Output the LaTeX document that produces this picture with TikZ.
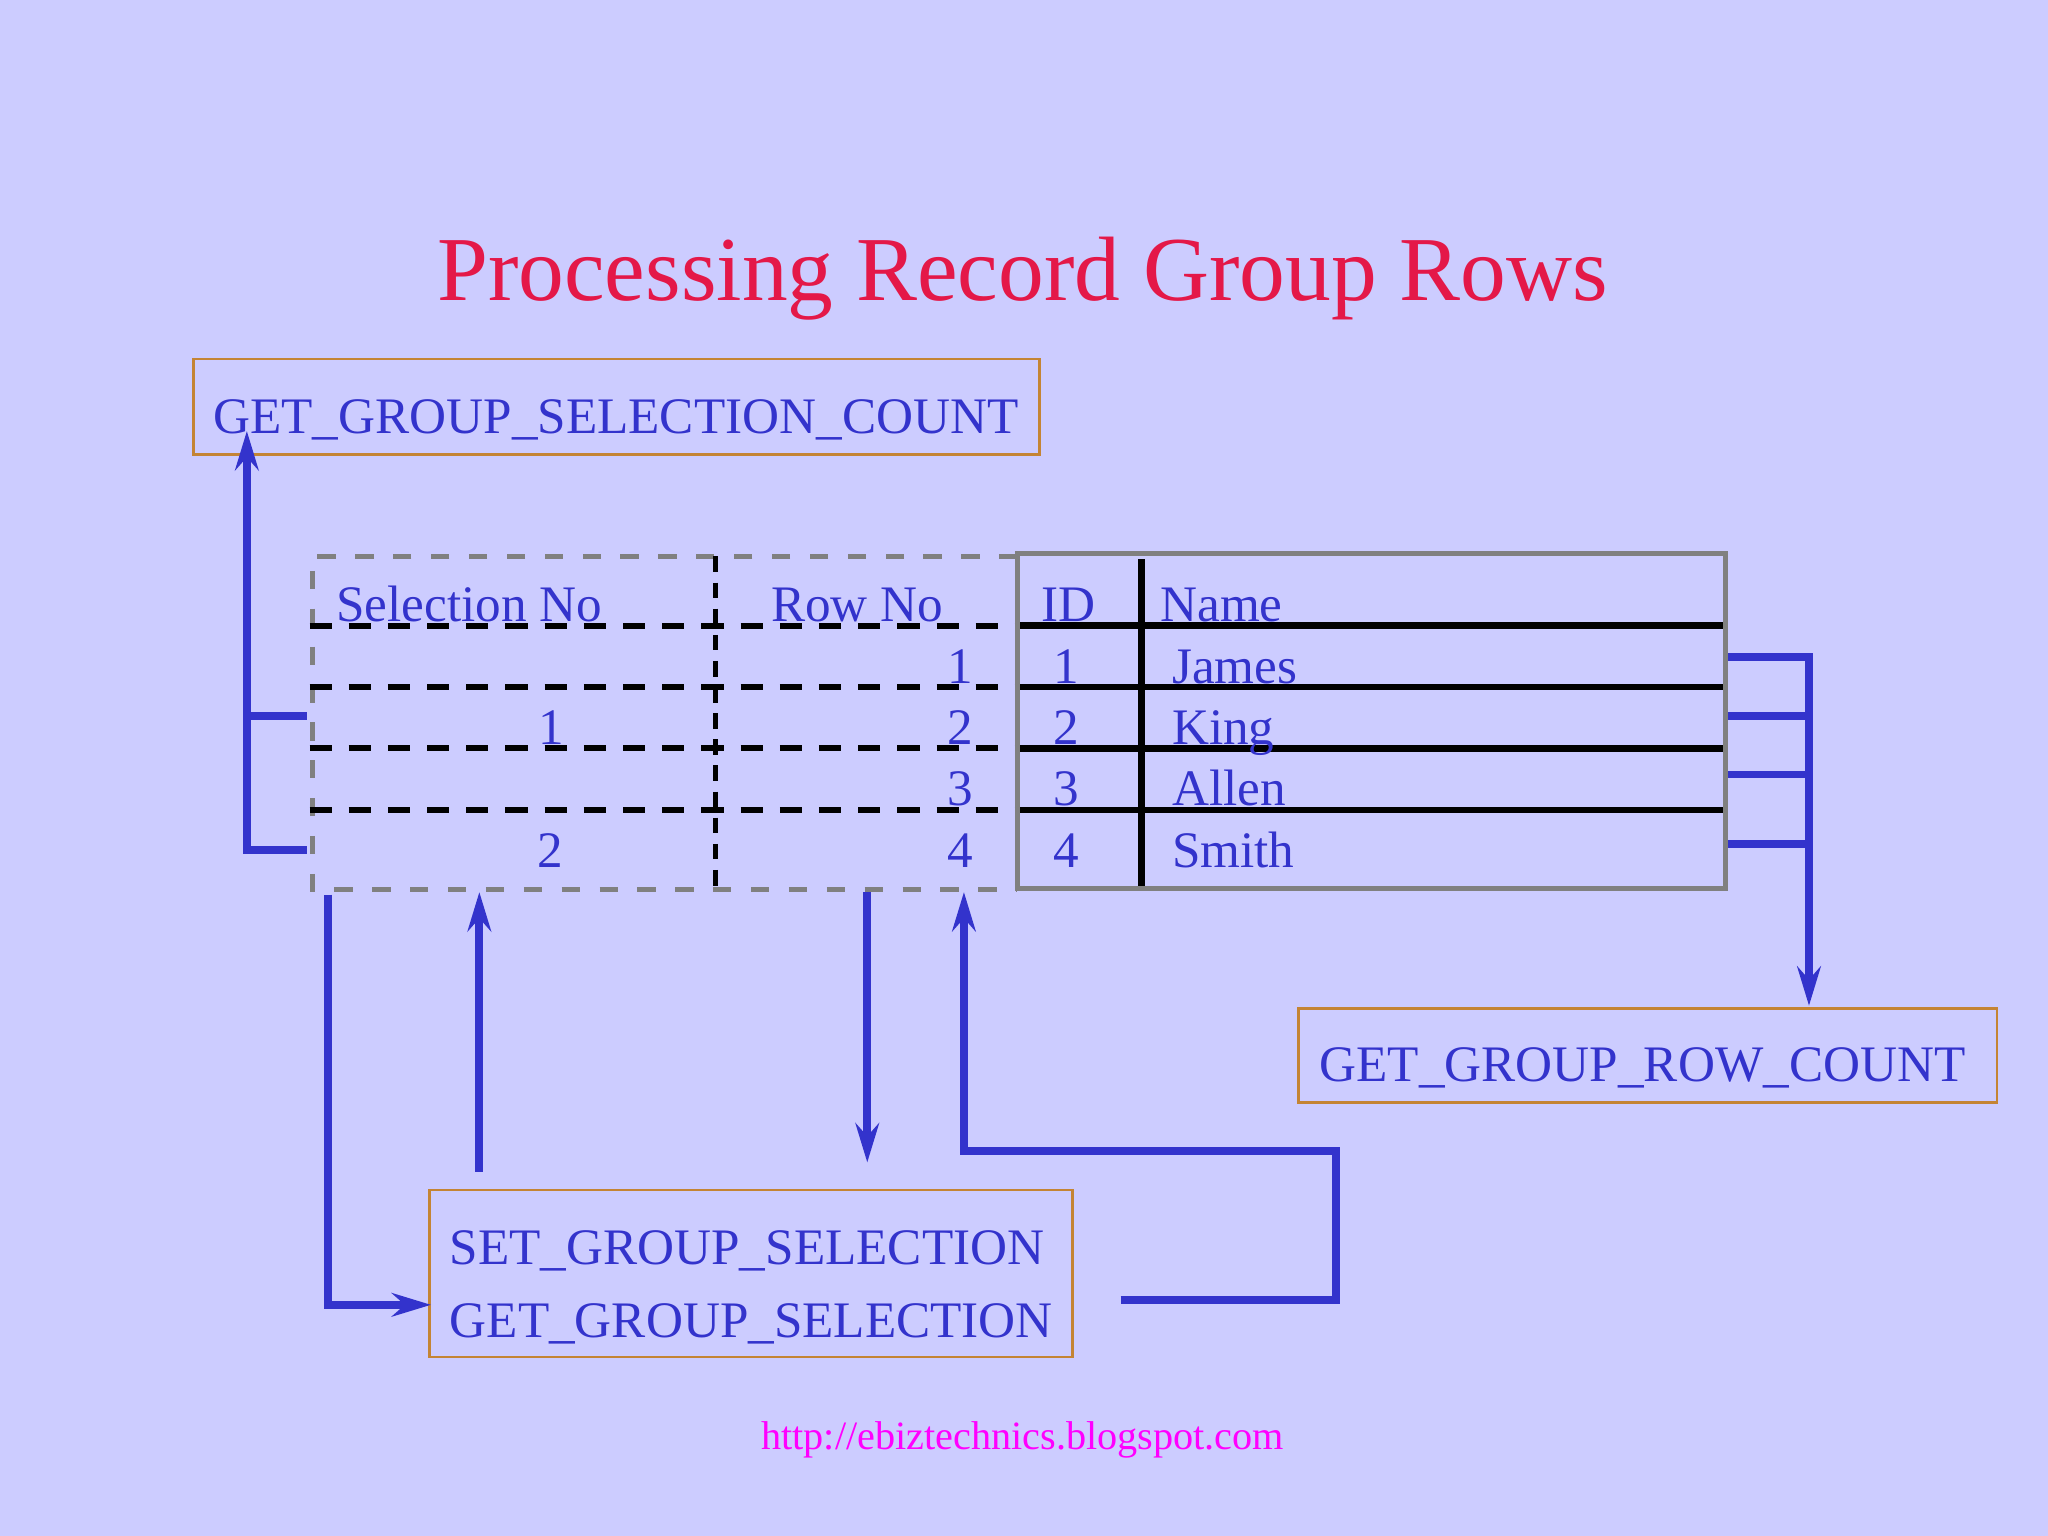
\documentclass[tikz,border=0pt]{standalone}
\usepackage{fontspec}
\setmainfont{Liberation Serif}
\usetikzlibrary{arrows.meta}
\definecolor{bg}{RGB}{204,204,255}
\definecolor{fnblue}{RGB}{51,51,204}
\definecolor{boxorange}{RGB}{196,132,52}
\definecolor{titlered}{RGB}{228,24,72}
\definecolor{tgray}{RGB}{128,128,128}
\definecolor{urlmag}{RGB}{255,0,255}
\tikzset{
  fnbox/.style={draw=boxorange, line width=1pt, inner sep=0pt, anchor=north west},
  fntext/.style={text=fnblue, inner sep=0pt, anchor=base west, font=\fontsize{19.6pt}{24pt}\selectfont},
  celltext/.style={text=fnblue, inner sep=0pt, anchor=base, font=\fontsize{19.6pt}{24pt}\selectfont},
  cellleft/.style={celltext, anchor=base west},
  conn/.style={draw=fnblue, line width=3pt},
  arr/.style={conn, -{Stealth[length=15pt,width=9pt,inset=5pt]}},
  blackdash/.style={draw=black, line width=2.3pt, dash pattern=on 8.5pt off 6.5pt},
  vdash/.style={draw=black, line width=2pt, dash pattern=on 6pt off 4pt},
  graydash/.style={draw=tgray, line width=1.8pt, dash pattern=on 7pt off 7.5pt},
  blackline/.style={draw=black, line width=2.4pt},
}
\begin{document}
\begin{tikzpicture}[x=0.5pt,y=-0.5pt]
\fill[bg] (0,0) rectangle (1568,1176);
\useasboundingbox (0,0) rectangle (1568,1176);

% title
\node[inner sep=0pt, anchor=base, text=titlered, font=\fontsize{35pt}{40pt}\selectfont] (title) at (783,230) {Processing Record Group Rows};

% function boxes
\node[fnbox, minimum width=324pt, minimum height=36.5pt] (gsc) at (147,274) {};
\node[fntext] (gsctext) at (163,332) {GET\_GROUP\_SELECTION\_COUNT};

\node[fnbox, minimum width=267.5pt, minimum height=36pt] (grc) at (993,771) {};
\node[fntext] (grctext) at (1010,828) {GET\_GROUP\_ROW\_COUNT};

\node[fnbox, minimum width=246pt, minimum height=64pt] (sgs) at (328,910) {};
\node[fntext] (settext) at (344,968) {SET\_GROUP\_SELECTION};
\node[fntext] (gettext) at (344,1024) {GET\_GROUP\_SELECTION};

% dashed selection table
\draw[graydash] (779,426) -- (239,426) -- (239,681) -- (779,681);
\foreach \yy in {479,526,573,620} \draw[blackdash] (237,\yy) -- (779,\yy);
\draw[vdash] (548,426) -- (548,681);

% record group table
\draw[blackline] (874,428) -- (874,681);
\foreach \yy in {479,526,573,620} \draw[blackline] (779,\yy) -- (1323,\yy);
\draw[draw=tgray, line width=2pt] (779,424) rectangle (1321,680);

% headers
\node[cellleft] (hsel) at (257,476) {Selection No};
\node[cellleft] (hrow) at (590,476) {Row No};
\node[cellleft] (hid) at (797,476) {ID};
\node[cellleft] (hname) at (888,476) {Name};

% cells
\node[celltext] (r1) at (735,523) {1};
\node[celltext] (r2) at (735,570) {2};
\node[celltext] (r3) at (735,617) {3};
\node[celltext] (r4) at (735,664) {4};
\node[celltext] (s1) at (422,570) {1};
\node[celltext] (s2) at (421,664) {2};
\node[celltext] (i1) at (816,523) {1};
\node[celltext] (i2) at (816,570) {2};
\node[celltext] (i3) at (816,617) {3};
\node[celltext] (i4) at (816,664) {4};
\node[cellleft] (n1) at (897,523) {James};
\node[cellleft] (n2) at (897,570) {King};
\node[cellleft] (n3) at (897,617) {Allen};
\node[cellleft] (n4) at (897,664) {Smith};

% named connector points
\coordinate (lb1) at (235,548);
\coordinate (lb2) at (235,651);
\coordinate (lbar) at (189,651);
\coordinate (gsctip) at (189,330);

\coordinate (rb1) at (1323,503);
\coordinate (rb2) at (1323,548);
\coordinate (rb3) at (1323,593);
\coordinate (rb4) at (1323,646);
\coordinate (rbar) at (1385,503);
\coordinate (grctip) at (1385,770);

\coordinate (aStart) at (251,685);
\coordinate (aTip) at (330,999);
\coordinate (bStart) at (367,897);
\coordinate (bTip) at (367,683);
\coordinate (cStart) at (664,683);
\coordinate (cTip) at (664,890);
\coordinate (dStart) at (858,995);
\coordinate (dTip) at (738,683);

% left bracket to GET_GROUP_SELECTION_COUNT
\draw[conn] (lb1) -- (lb1 -| lbar);
\draw[arr] (lb2) -- (lbar) -- (gsctip);

% right bracket to GET_GROUP_ROW_COUNT
\draw[conn] (rb2) -- (rb2 -| rbar);
\draw[conn] (rb3) -- (rb3 -| rbar);
\draw[conn] (rb4) -- (rb4 -| rbar);
\draw[arr] (rb1) -- (rbar) -- (grctip);

% bottom connectors
\draw[arr] (aStart) |- (aTip);
\draw[arr] (bStart) -- (bTip);
\draw[arr] (cStart) -- (cTip);
\draw[arr] (dStart) -- (1023,995) -- (1023,881) -- (738,881) -- (dTip);

% footer
\node[inner sep=0pt, anchor=base, text=urlmag, font=\fontsize{15.4pt}{18pt}\selectfont] (url) at (783,1110) {http://ebiztechnics.blogspot.com};
\end{tikzpicture}
\end{document}
